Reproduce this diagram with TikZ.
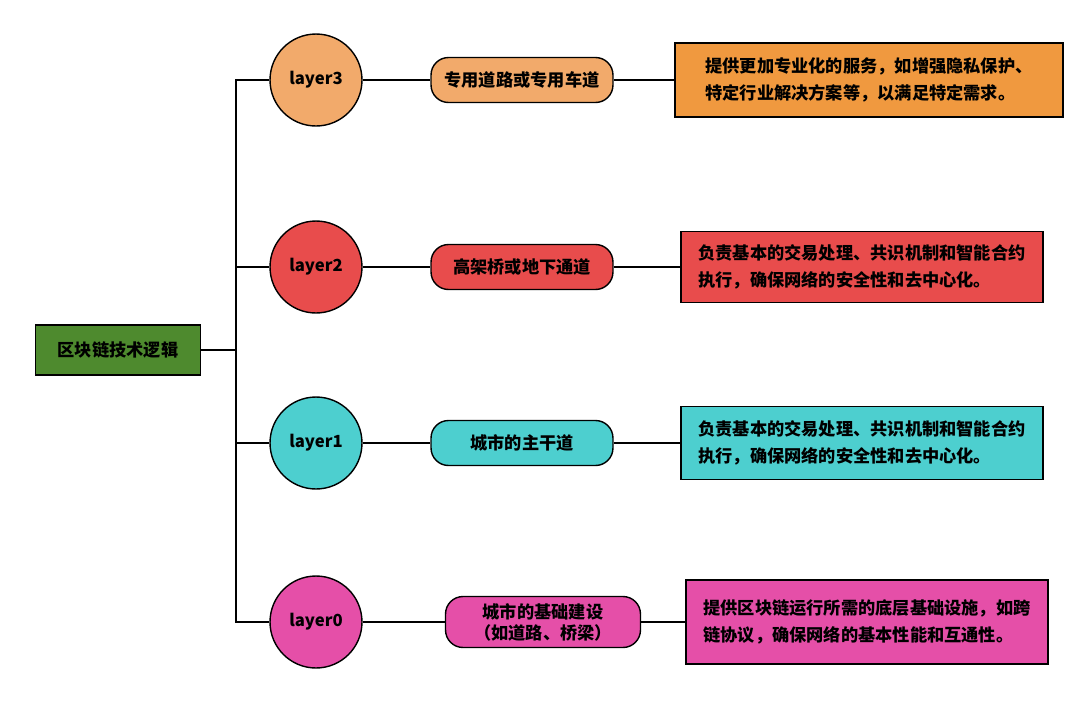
\documentclass[tikz,border=0pt]{standalone}
\usepackage{fontspec}
\setmainfont{Noto Sans CJK SC}
\definecolor{cgreen}{HTML}{4E8A2E}
\definecolor{corange}{HTML}{F2AA6B}
\definecolor{cdorange}{HTML}{F0993F}
\definecolor{cred}{HTML}{E84C4C}
\definecolor{ccyan}{HTML}{4DCFCF}
\definecolor{cpink}{HTML}{E54FA8}
\tikzset{
  layer/.style={circle,draw,thick,minimum size=1.84cm,inner sep=0pt,font=\bfseries\fontsize{9.5}{12}\selectfont},
  mid/.style={draw,thick,rounded corners=0.35cm,minimum height=0.9cm,align=center,font=\bfseries\fontsize{9.8}{12}\selectfont},
  desc/.style={draw,thick,align=left,font=\bfseries\fontsize{9.8}{15}\selectfont},
  link/.style={thick}
}
\begin{document}
\begin{tikzpicture}[x=0.02cm,y=-0.02cm]
  \useasboundingbox (0,0) rectangle (1080,701);
  \node[draw,thick,fill=cgreen,minimum width=3.3cm,minimum height=1cm,font=\bfseries\fontsize{9.8}{12}\selectfont]
  (root) at (118, 350) {区块链技术逻辑};
  \coordinate (top) at (236, 80);
  \coordinate (bot) at (236, 622);
  \coordinate (hub) at (236, 350);

  \node[layer,fill=corange] (l3) at (316, 80) {layer3};
  \node[layer,fill=cred] (l2) at (316, 267) {layer2};
  \node[layer,fill=ccyan] (l1) at (316, 443) {layer1};
  \node[layer,fill=cpink] (l0) at (316, 622) {layer0};

  \node[mid,fill=corange,minimum width=3.64cm] (m3) at (522, 80) {专用道路或专用车道};
  \node[mid,fill=cred,minimum width=3.64cm] (m2) at (522, 267) {高架桥或地下通道};
  \node[mid,fill=ccyan,minimum width=3.64cm] (m1) at (522, 443) {城市的主干道};
  \node[mid,fill=cpink,minimum width=3.9cm,minimum height=1.02cm] (m0) at (543, 622) {城市的基础建设\\（如道路、桥梁）};

  \node[desc,fill=cdorange,minimum width=7.76cm,minimum height=1.48cm] (d3) at (869, 80)
  {提供更加专业化的服务，如增强隐私保护、\\特定行业解决方案等，以满足特定需求。};
  \node[desc,fill=cred,minimum width=7.24cm,minimum height=1.42cm] (d2) at (862, 267)
  {负责基本的交易处理、共识机制和智能合约\\执行，确保网络的安全性和去中心化。};
  \node[desc,fill=ccyan,minimum width=7.24cm,minimum height=1.46cm] (d1) at (862, 443)
  {负责基本的交易处理、共识机制和智能合约\\执行，确保网络的安全性和去中心化。};
  \node[desc,fill=cpink,minimum width=7.24cm,minimum height=1.68cm] (d0) at (867, 622)
  {提供区块链运行所需的底层基础设施，如跨\\链协议，确保网络的基本性能和互通性。};

  \draw[link] (root) -- (hub);
  \draw[link] (l3) -- (top) -- (bot) -- (l0);
  \draw[link] (hub) ++(0,-83) -- (l2);
  \draw[link] (hub) ++(0,93) -- (l1);
  \draw[link] (l3) -- (m3);
  \draw[link] (l2) -- (m2);
  \draw[link] (l1) -- (m1);
  \draw[link] (l0) -- (m0);
  \draw[link] (m3) -- (d3);
  \draw[link] (m2) -- (d2);
  \draw[link] (m1) -- (d1);
  \draw[link] (m0) -- (d0);
 \end{tikzpicture}
\end{document}
